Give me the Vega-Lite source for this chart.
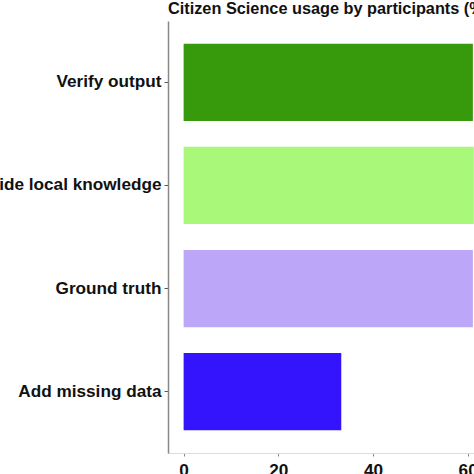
{
  "$schema": "https://vega.github.io/schema/vega-lite/v6.json",
  "autosize": {"type": "none"},
  "padding": {"left": 168, "top": 21, "right": 0, "bottom": 21},
  "width": 347,
  "height": 432,
  "title": {
    "text": "Citizen Science usage by participants (%)",
    "anchor": "start",
    "frame": "group",
    "font": "Liberation Sans",
    "fontSize": 16.3,
    "fontWeight": "bold",
    "color": "#111111",
    "offset": 4
  },
  "data": {
    "values": [
      {"usage": "Verify output", "percent": 61.1},
      {"usage": "Provide local knowledge", "percent": 61.3},
      {"usage": "Ground truth", "percent": 61.1},
      {"usage": "Add missing data", "percent": 33.3}
    ]
  },
  "mark": {"type": "bar"},
  "encoding": {
    "y": {
      "field": "usage",
      "type": "nominal",
      "sort": ["Verify output", "Provide local knowledge", "Ground truth", "Add missing data"],
      "scale": {"paddingInner": 0.25, "paddingOuter": 0.22},
      "axis": {
        "title": null,
        "labelFont": "Liberation Sans",
        "labelFontSize": 17.2,
        "labelFontWeight": "bold",
        "labelColor": "#111111",
        "labelLimit": 0,
        "labelPadding": 3,
        "tickSize": 4,
        "tickColor": "#555555",
        "domainColor": "#888888",
        "domainWidth": 1.5
      }
    },
    "x": {
      "field": "percent",
      "type": "quantitative",
      "scale": {"domain": [-3.3, 70], "nice": false, "zero": false},
      "axis": {
        "title": null,
        "values": [0, 20, 40, 60],
        "grid": false,
        "labelFont": "Liberation Sans",
        "labelFontSize": 17.2,
        "labelFontWeight": "bold",
        "labelColor": "#111111",
        "labelPadding": 5,
        "tickSize": 3,
        "tickColor": "#888888",
        "domainColor": "#dddddd",
        "domainWidth": 1
      }
    },
    "color": {
      "field": "usage",
      "type": "nominal",
      "scale": {
        "domain": ["Verify output", "Provide local knowledge", "Ground truth", "Add missing data"],
        "range": ["#379a0c", "#aaf87a", "#bca6f8", "#3414fc"]
      },
      "legend": null
    }
  },
  "config": {"view": {"stroke": null}}
}
